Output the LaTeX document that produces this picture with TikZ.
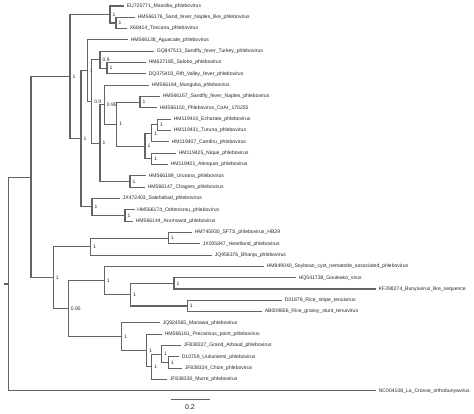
\documentclass[tikz,border=0pt]{standalone}
\usepackage{fontspec}
\setmainfont{Liberation Sans}
\definecolor{linegray}{RGB}{100,100,100}
\definecolor{textgray}{RGB}{40,40,40}
\newcommand\leafn[4]{\coordinate (#1) at (#2,#3); \node[leaf] (#1t) at (#1) {#4};}
\newcommand\innr[4]{\coordinate (#1) at (#2,#3); \node[supp] (#1s) at (#1) {#4};}
\begin{document}
\begin{tikzpicture}[x=1pt,y=-1pt,
  br/.style={draw=linegray, line width=1.05pt},
  leaf/.style={anchor=west, inner sep=0pt, xshift=2.6pt, font=\fontsize{5.1}{6}\selectfont, text=textgray},
  supp/.style={anchor=west, inner sep=0pt, xshift=2.4pt, font=\fontsize{5}{6}\selectfont, text=textgray},
  sblab/.style={inner sep=0pt, font=\fontsize{7}{8}\selectfont, text=textgray}]
\useasboundingbox (0,0) rectangle (474,414);
% leaves
\leafn{l1}{124}{6.0}{EU725771\_Massilia\_phlebovirus}
\leafn{l2}{135}{17.32}{HM566176\_Sand\_fever\_Naples\_like\_phlebovirus}
\leafn{l3}{127}{28.64}{X68414\_Toscana\_phlebovirus}
\leafn{l4}{128}{39.96}{HM566138\_Aguacate\_phlebovirus}
\leafn{l5}{154}{51.28}{GQ847513\_Sandfly\_fever\_Turkey\_phlebovirus}
\leafn{l6}{146}{62.6}{HM627185\_Salobo\_phlebovirus}
\leafn{l7}{146}{73.92}{DQ375403\_Rift\_Valley\_fever\_phlebovirus}
\leafn{l8}{149}{85.24}{HM566164\_Munguba\_phlebovirus}
\leafn{l9}{160}{96.56}{HM566167\_Sandfly\_fever\_Naples\_phlebovirus}
\leafn{l10}{157}{107.88}{HM566150\_Phlebovirus\_CoAr\_170255}
\leafn{l11}{171}{119.2}{HM119410\_Echarate\_phlebovirus}
\leafn{l12}{171}{130.52}{HM119431\_Turuna\_phlebovirus}
\leafn{l13}{169}{141.84}{HM119407\_Candiru\_phlebovirus}
\leafn{l14}{176}{153.16}{HM119425\_Nique\_phlebovirus}
\leafn{l15}{168}{164.48}{HM119401\_Alenquer\_phlebovirus}
\leafn{l16}{146}{175.8}{HM566189\_Ururana\_phlebovirus}
\leafn{l17}{145}{187.12}{HM566147\_Chagres\_phlebovirus}
\leafn{l18}{120}{198.44}{JX472403\_Salehabad\_phlebovirus}
\leafn{l19}{134.5}{209.76}{HM566174\_Odrenisrou\_phlebovirus}
\leafn{l20}{133}{221.08}{HM566144\_Arumowot\_phlebovirus}
\leafn{l21}{192}{232.4}{HM745930\_SFTS\_phlebovirus\_HB29}
\leafn{l22}{200}{243.72}{JX005847\_Heartland\_phlebovirus}
\leafn{l23}{212}{255.04}{JQ956376\_Bhanja\_phlebovirus}
\leafn{l24}{264}{266.36}{HM849040\_Soybean\_cyst\_nematode\_associated\_phlebovirus}
\leafn{l25}{296}{277.68}{HQ541738\_Gouleako\_virus}
\leafn{l26}{376}{289.0}{KF298274\_Bunyavirus\_like\_sequence}
\leafn{l27}{282}{300.32}{D31879\_Rice\_stripe\_tenuivirus}
\leafn{l28}{262}{311.64}{AB009656\_Rice\_grassy\_stunt\_tenuivirus}
\leafn{l29}{160}{322.96}{JQ924565\_Manawa\_phlebovirus}
\leafn{l30}{162}{334.28}{HM566181\_Precarious\_point\_phlebovirus}
\leafn{l31}{181}{345.6}{JF838327\_Grand\_Arbaud\_phlebovirus}
\leafn{l32}{179}{356.92}{D10759\_Uukuniemi\_phlebovirus}
\leafn{l33}{182}{368.24}{JF838324\_Chize\_phlebovirus}
\leafn{l34}{167}{379.56}{JF838330\_Murre\_phlebovirus}
\leafn{l35}{376}{390.88}{NC004108\_La\_Crosse\_orthobunyavirus}
% internal nodes
\innr{R}{116}{22.98}{1}
\innr{Q}{110}{14.49}{1}
\innr{VV}{107}{68.26}{1}
\innr{V}{100}{59.77}{0.9}
\innr{SN}{140}{102.22}{1}
\innr{ET}{157.5}{124.86}{1}
\innr{ETC}{151.7}{133.35}{1}
\innr{NA}{151.7}{158.82}{1}
\innr{Z}{145}{146.09}{1}
\innr{X}{116.7}{124.15}{1}
\innr{W}{104.3}{104.7}{0.95}
\innr{UC}{130}{181.46}{1}
\innr{Y}{100}{143.08}{1}
\innr{U}{91.7}{101.43}{0.9}
\innr{T}{87.3}{70.7}{1}
\innr{OA}{125}{215.42}{1}
\innr{AA}{92}{206.93}{1}
\innr{S}{81}{138.8}{1}
\innr{P}{70}{76.65}{1}
\innr{D}{168.3}{238.06}{1}
\innr{C}{90.7}{246.55}{1}
\innr{H}{174}{283.34}{1}
\innr{I}{187.3}{305.98}{1}
\innr{G}{130.7}{294.66}{1}
\innr{F}{104.3}{280.51}{1}
\innr{N}{168.3}{362.58}{1}
\innr{M}{161.7}{354.09}{1}
\innr{L}{151.7}{366.83}{1}
\innr{K}{146.7}{350.55}{1}
\innr{J}{121.7}{336.76}{1}
\innr{E}{68.3}{308.63}{0.95}
\innr{B}{53.3}{277.59}{1}
\coordinate (A) at (31,177.12);
\coordinate (root) at (8.3,284.0);
\coordinate (root0) at (4,284.0);
% branches
\foreach \p/\c in {R/l2,R/l3,Q/l1,Q/R,VV/l6,VV/l7,V/l5,V/VV,SN/l9,SN/l10,
  ET/l11,ET/l12,ETC/ET,ETC/l13,NA/l14,NA/l15,Z/ETC,Z/NA,X/SN,X/Z,W/l8,W/X,
  UC/l16,UC/l17,Y/W,Y/UC,U/V,U/Y,T/l4,T/U,OA/l19,OA/l20,AA/l18,AA/OA,S/T,S/AA,
  P/Q,P/S,D/l21,D/l22,C/D,C/l23,H/l25,H/l26,I/l27,I/l28,G/H,G/I,F/l24,F/G,
  N/l32,N/l33,M/l31,M/N,L/M,L/l34,K/l30,K/L,J/l29,J/K,E/F,E/J,B/C,B/E,A/P,A/B,
  root/A,root/l35}
  \draw[br] (\p) |- (\c);
\draw[br] (root0) -- (root);
% scale bar
\coordinate (sb1) at (170.7,399.3);
\coordinate (sb2) at (210,399.3);
\draw[br] (sb1) -- (sb2);
\node[sblab] (sbt) at (190,407) {0.2};
\end{tikzpicture}
\end{document}
